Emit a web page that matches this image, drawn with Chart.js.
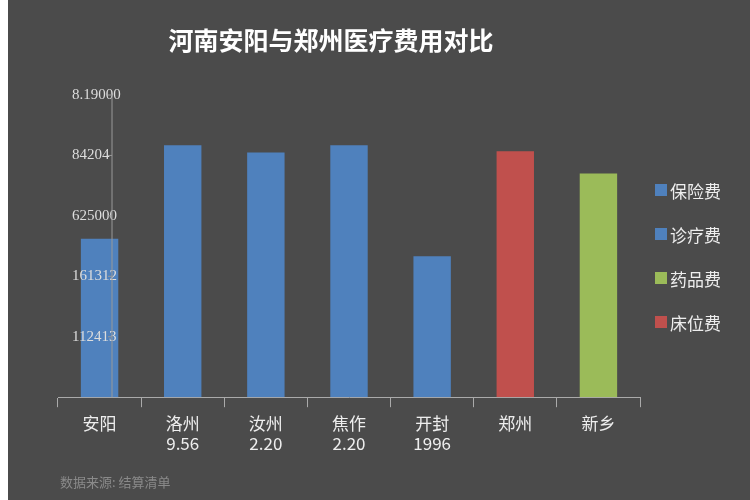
<!DOCTYPE html><html><head><meta charset="utf-8">
<script src="https://cdn.jsdelivr.net/npm/chart.js@4"></script>
<style>html,body{margin:0;background:#fff}#w{position:absolute;left:8px;top:0;width:742px;height:500px;background:#4b4b4b}
#src{position:absolute;left:60px;top:472px;color:#8a8a8a;font:13px "Noto Sans CJK SC"}
#lg{position:absolute;left:655px;top:178px;color:#eee;font:17px "Noto Sans CJK SC"}
#lg div{height:44px;display:flex;align-items:flex-start}#lg span{display:inline-block;width:12px;height:12px;margin:6px 3px 0 0}</style></head><body>
<div id="w"><canvas id="c" width="742" height="500"></canvas></div><div id="src">数据来源: 结算清单</div><div id="lg"></div>
<script>
const categories=[["安阳",""],["洛州","9.56"],["汝州","2.20"],["焦作","2.20"],["开封","1996"],["郑州",""],["新乡",""]];
const values=[2.62,4.17,4.05,4.17,2.33,4.07,3.7];
const colors=["#4f81bd","#4f81bd","#4f81bd","#4f81bd","#4f81bd","#c0504d","#9bbb59"];
const tickLabels=["","112413","161312","625000","84204","8.19000"];
const legendNames=["保险费","诊疗费","药品费","床位费"];
const legendColors=["#4f81bd","#4f81bd","#9bbb59","#c0504d"];
const F='"Noto Sans CJK SC"';
document.getElementById('lg').innerHTML=legendNames.map((n,i)=>`<div><span style="background:${legendColors[i]}"></span>${n}</div>`).join('');
const axisLine={id:'al',afterDraw(ch){const c=ch.ctx,a=ch.chartArea,x=104;c.save();c.strokeStyle='#999';c.lineWidth=1;
c.beginPath();c.moveTo(x,ch.scales.y.getPixelForValue(5));c.lineTo(x,a.bottom);c.stroke();
for(let v=1;v<=5;v++){const y=ch.scales.y.getPixelForValue(v);c.beginPath();c.moveTo(x-4,y);c.lineTo(x,y);c.stroke();}c.restore();}};
new Chart(document.getElementById('c'),{type:'bar',plugins:[axisLine],
data:{labels:categories,datasets:[{data:values,backgroundColor:colors,borderColor:colors,barPercentage:0.45,categoryPercentage:1}]},
options:{responsive:false,animation:false,
layout:{padding:{left:14,right:110,top:10,bottom:40}},
plugins:{title:{display:true,text:'河南安阳与郑州医疗费用对比',color:'#fff',font:{family:F,size:25,weight:'bold'},padding:{top:15,bottom:40}},
legend:{display:false},tooltip:{enabled:false}},
scales:{x:{grid:{display:true,offset:true,color:'rgba(0,0,0,0)',tickColor:'#aaa',tickLength:10,drawOnChartArea:false},border:{color:'#aaa'},
ticks:{color:'#eee',font:{family:F,size:17},padding:6}},
y:{min:0,max:5,grid:{display:false},border:{display:false},
ticks:{stepSize:1,mirror:true,color:'#ddd',font:{family:'Liberation Serif',size:15},callback:(v)=>tickLabels[v],padding:14,z:2}}}}});
</script></body></html>
